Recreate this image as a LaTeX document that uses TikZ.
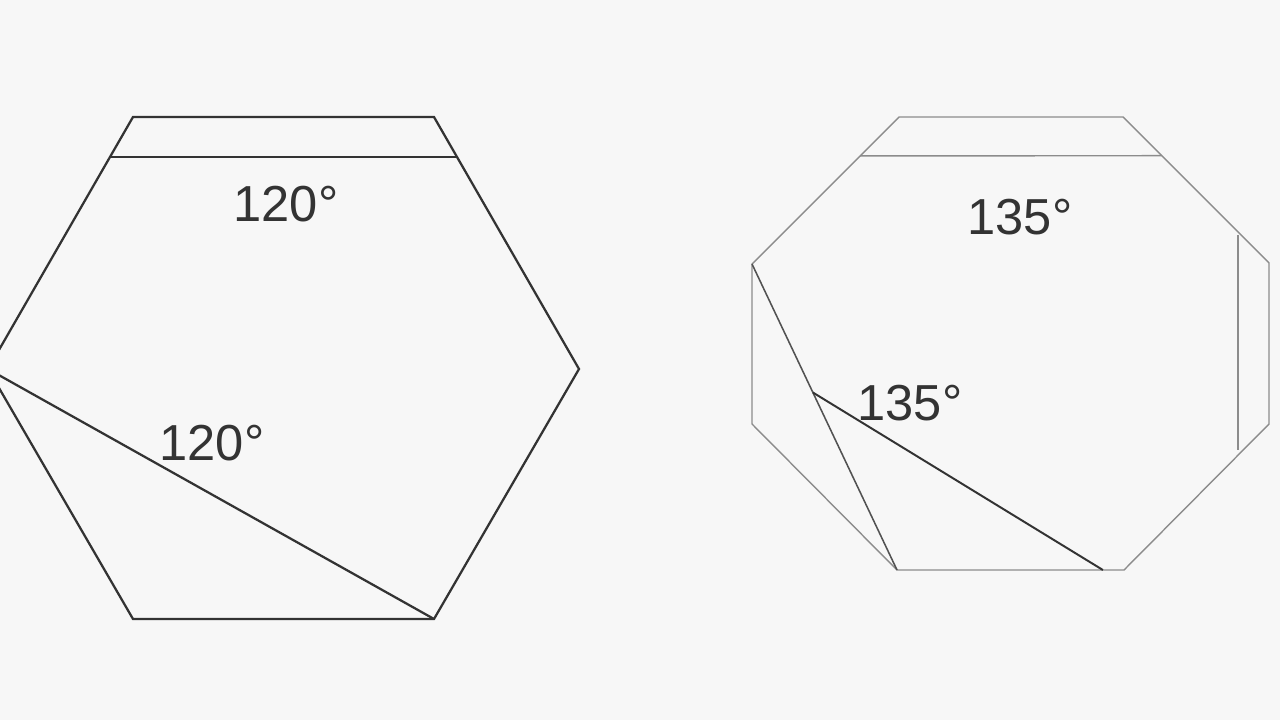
\documentclass[tikz,border=0pt]{standalone}
\usepackage{fontspec}
\setmainfont{Liberation Sans}
\usetikzlibrary{calc}
\definecolor{bgcol}{HTML}{F7F7F7}
\definecolor{darkline}{HTML}{333333}
\definecolor{greyline}{HTML}{8C8C8C}
\tikzset{
  angletext/.style={text=darkline,font=\fontsize{36}{42}\selectfont,inner sep=0pt},
  hexline/.style={draw=darkline,line width=1.6pt,line join=miter},
  octline/.style={draw=greyline,line width=1pt,line join=miter}
}

\begin{document}
\begin{tikzpicture}[x=0.025cm,y=-0.025cm]
    \clip (0,0) rectangle (1280,720);
    \fill[bgcol] (0,0) rectangle (1280,720);
    % hexagon
    \coordinate (h1) at (133,117);
    \coordinate (h2) at (434,117);
    \coordinate (h3) at (579,369);
    \coordinate (h4) at (434,619);
    \coordinate (h5) at (133,619);
    \coordinate (h6) at (-12,369);
    \draw[hexline] (h1) -- (h2) -- (h3) -- (h4) -- (h5) -- (h6) -- cycle;
    \draw[hexline] ($(h1)!0.159!(h6)$) -- ($(h2)!0.159!(h3)$);
    \draw[hexline] (h6) -- (h4);
    \node[angletext] (a1) at (286,204) {120°};
    \node[angletext] (a2) at (212,443) {120°};
    % octagon
    \coordinate (o1) at (899,117);
    \coordinate (o2) at (1123,117);
    \coordinate (o3) at (1269,263);
    \coordinate (o4) at (1269,424);
    \coordinate (o5) at (1124,570);
    \coordinate (o6) at (897,570);
    \coordinate (o7) at (752,424);
    \coordinate (o8) at (752,264);
    \draw[octline] (o1) -- (o2) -- (o3) -- (o4) -- (o5) -- (o6) -- (o7) -- (o8) -- cycle;
    \draw[octline] ($(o1)!0.265!(o8)$) -- ($(o2)!0.265!(o3)$);
    \draw[octline] (1238,235) -- (1238,450);
    \draw[draw=darkline!85,line width=1.1pt] (o8) -- (o6);
    \coordinate (q) at ($(o8)!0.42!(o6)$);
    \draw[draw=darkline,line width=1.4pt] (q) -- ($(o6)!0.907!(o5)$);
    \node[angletext] (b1) at (1020,217) {135°};
    \node[angletext] (b2) at (910,403) {135°};
\end{tikzpicture}
\end{document}
